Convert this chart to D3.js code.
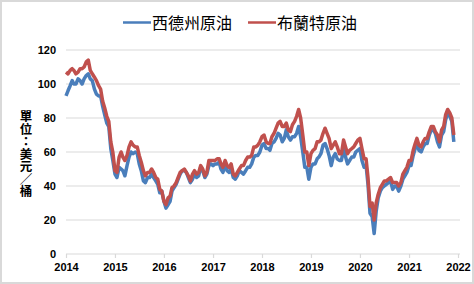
<!DOCTYPE html>
<html><head><meta charset="utf-8">
<script src="https://cdn.jsdelivr.net/npm/d3@7"></script>
<style>html,body{margin:0;padding:0;background:#fff;}svg{display:block;}</style>
</head><body>
<svg id="chart" width="474" height="284"></svg>
<script>
// Series names and colours
const seriesNames = ["西德州原油", "布蘭特原油"];
const yTicks = [0, 20, 40, 60, 80, 100, 120];
const xTickYears = [2014, 2015, 2016, 2017, 2018, 2019, 2020, 2021, 2022];
const yLabel = "單位：美元／桶";
// Semi-monthly observations starting 2014-01-01 (two per month)
const startDate = "2014-01-01";
const wti = [
  93,96, 99,102, 100,100, 103,102, 100,103, 105,106, 103,102, 97,94, 93,93, 87,82, 77,75, 62,55,
  47,45, 51,50, 49,46, 52,57, 60,59, 60,59, 53,49, 43,42, 45,45, 47,45, 43,41, 36,37,
  31,27, 29,31, 37,39, 41,44, 47,49, 49,48, 45,42, 44,47, 45,46, 51,49, 45,47, 52,53,
  52,53, 53,54, 50,48, 53,49, 48,50, 45,44, 46,49, 48,47, 49,51, 51,53, 57,58, 58,60,
  64,65, 62,62, 61,65, 66,68, 71,70, 66,68, 73,69, 67,69, 69,71, 75,69, 60,51, 51,44,
  51,53, 53,56, 57,59, 64,65, 62,58, 52,57, 59,56, 55,55, 62,57, 53,55, 57,57, 60,61,
  62,55, 51,52, 41,24, 22,12, 25,33, 37,39, 40,41, 42,43, 38,40, 40,37, 40,44, 46,48,
  52,52, 58,62, 65,61, 60,63, 65,65, 70,73, 73,71, 66,63, 70,72, 79,83, 81,78, 66
];
const brent = [
  107,106, 108,109, 108,106, 107,109, 109,110, 113,114, 108,106, 104,102, 99,97, 90,86, 81,78, 66,60,
  49,48, 57,60, 57,55, 58,63, 66,64, 63,63, 58,54, 49,46, 48,48, 50,48, 45,44, 38,37,
  31,29, 33,34, 39,40, 42,45, 48,49, 50,48, 46,43, 47,49, 47,48, 52,50, 46,48, 55,55,
  55,55, 56,56, 53,51, 55,52, 51,53, 47,46, 48,50, 52,52, 55,57, 57,58, 63,63, 64,66,
  69,70, 66,65, 65,69, 71,74, 77,78, 75,75, 77,73, 72,76, 78,81, 85,80, 70,60, 60,52,
  59,61, 62,66, 66,67, 71,74, 71,68, 62,64, 66,63, 59,59, 67,63, 59,61, 62,63, 65,67,
  68,62, 56,56, 45,28, 30,20, 30,35, 39,41, 43,43, 44,45, 42,42, 42,40, 42,47, 49,51,
  55,55, 61,65, 68,64, 63,66, 68,68, 72,75, 75,72, 70,66, 73,75, 82,85, 83,80, 70
];

const svg = d3.select("#chart");
const W = 474, H = 284;

// frame
svg.append("rect").attr("x", 1).attr("y", 1).attr("width", W - 2).attr("height", H - 2)
  .attr("fill", "#fff").attr("stroke", "#d9d9d9").attr("stroke-width", 2);

const parse = d3.timeParse("%Y-%m-%d");
const t0 = parse(startDate);
const dates = wti.map((_, i) => {
  const m = d3.timeMonth.offset(t0, Math.floor(i / 2));
  return i % 2 === 0 ? m : d3.timeDay.offset(m, 15);
});

const x = d3.scaleTime()
  .domain([new Date(2014, 0, 1), new Date(2022, 0, 1)])
  .range([66, 458]);
const y = d3.scaleLinear().domain([0, 120]).range([254, 50]);

// gridlines
svg.append("g").selectAll("line").data(yTicks.filter(d => d > 0)).join("line")
  .attr("x1", 66).attr("x2", 460)
  .attr("y1", d => y(d)).attr("y2", d => y(d))
  .attr("stroke", "#d9d9d9").attr("stroke-width", 1.2);

// y axis labels
const yAxis = d3.axisLeft(y).tickValues(yTicks).tickSize(0).tickPadding(10);
const gy = svg.append("g").attr("transform", "translate(66,0)").call(yAxis);
gy.select(".domain").remove();
gy.selectAll("text").attr("font-family", "'Liberation Sans', Arial, sans-serif")
  .attr("font-size", 11).attr("font-weight", "bold").attr("fill", "#000");

// x axis
const xAxis = d3.axisBottom(x)
  .tickValues(xTickYears.map(yr => new Date(yr, 0, 1)))
  .tickFormat(d3.timeFormat("%Y")).tickSize(4).tickSizeOuter(0).tickPadding(5);
const gx = svg.append("g").attr("transform", "translate(0,254)").call(xAxis);
gx.select(".domain").attr("stroke", "#d9d9d9").attr("stroke-width", 1.2).attr("d", "M66,0H460");
gx.selectAll(".tick line").attr("stroke", "#d9d9d9").attr("stroke-width", 1.2);
gx.selectAll("text").attr("font-family", "'Liberation Sans', Arial, sans-serif")
  .attr("font-size", 11).attr("font-weight", "bold").attr("fill", "#000");

// lines
const line = d3.line().x((d, i) => x(dates[i])).y(d => y(d)).curve(d3.curveLinear);
svg.append("path").datum(wti).attr("d", line).attr("fill", "none")
  .attr("stroke", "#4a7ebb").attr("stroke-width", 3.5).attr("stroke-linejoin", "round");
svg.append("path").datum(brent).attr("d", line).attr("fill", "none")
  .attr("stroke", "#c0504d").attr("stroke-width", 3.5).attr("stroke-linejoin", "round");

// y label, vertical writing mode, one text element
const cjk = "'Noto Sans CJK TC', 'Noto Sans CJK SC', sans-serif";
svg.append("text")
  .attr("x", 26).attr("y", 110)
  .style("writing-mode", "vertical-rl").style("text-orientation", "upright")
  .attr("font-family", cjk).attr("font-size", 12.5).attr("font-weight", "bold")
  .attr("fill", "#000").text(yLabel);

// legend
const colors = ["#4a7ebb", "#c0504d"];
const legX = [123, 248];
const lg = svg.append("g");
seriesNames.forEach((n, i) => {
  lg.append("line").attr("x1", legX[i]).attr("x2", legX[i] + 28)
    .attr("y1", 22.5).attr("y2", 22.5).attr("stroke", colors[i]).attr("stroke-width", 2.5);
  lg.append("text").attr("x", legX[i] + 29).attr("y", 28.5)
    .attr("font-family", cjk).attr("font-size", 16).attr("fill", "#000").text(n);
});
</script>
</body></html>
